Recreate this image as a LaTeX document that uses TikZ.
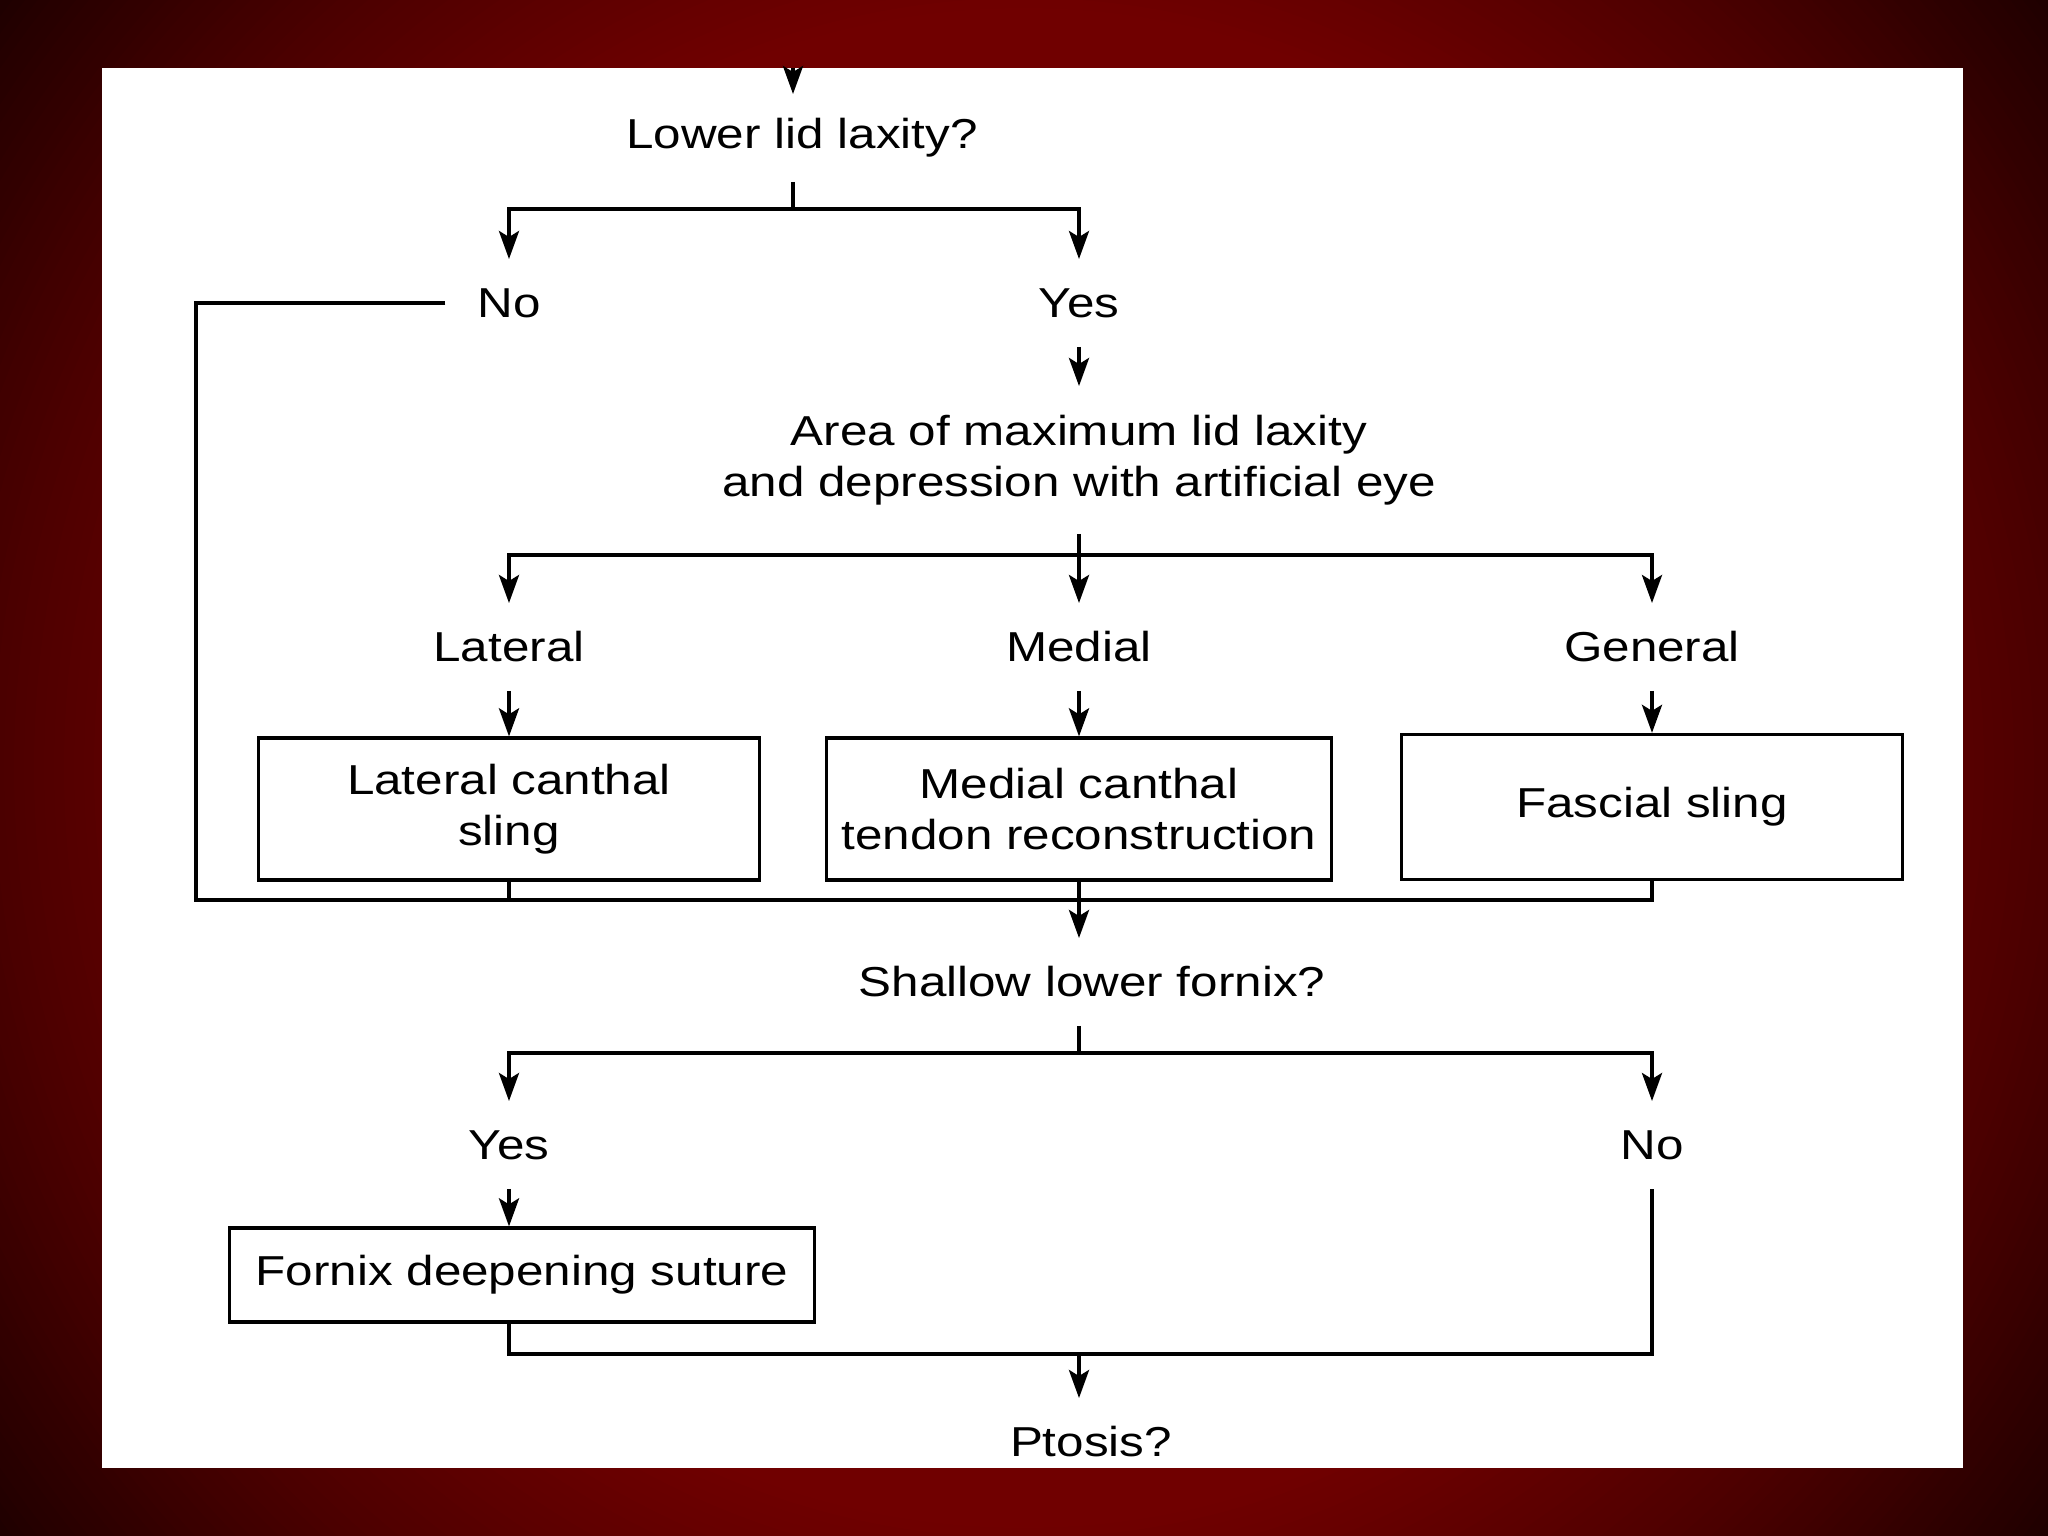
\documentclass[tikz,border=0pt]{standalone}
\usepackage{fontspec}
\setmainfont{Liberation Sans}[FakeStretch=1.18]
\usetikzlibrary{arrows.meta}
\definecolor{bgred}{HTML}{700000}
\definecolor{bgmid}{HTML}{4C0000}
\definecolor{bgdark}{HTML}{1C0000}
\tikzset{
  lbl/.style={inner ysep=0pt,inner xsep=0.3cm,minimum height=0.84cm,align=center},
  stepbox/.style={draw,line width=0.9pt,inner sep=0pt,align=center}
}
\begin{document}
\begin{tikzpicture}[x=0.01cm,y=-0.01cm,>={Stealth[length=2.8mm,width=2mm,inset=0.6mm]},line width=1.1pt,
  font=\fontsize{11.9}{14.5}\selectfont]
  \useasboundingbox (0,0) rectangle (2048,1536);
  % slide background, dark towards the corners
  \begin{scope}
    \clip (0,0) rectangle (2048,1536);
    \fill[bgdark] (0,0) rectangle (2048,1536);
    \foreach \i in {0,...,54}{
      \pgfmathsetmacro\rad{1300-10*\i}
      \pgfmathsetmacro\mixp{\rad>1024 ? (1300-\rad)/2.76 : (1024-\rad)/2.64}
      \ifdim\rad pt>1024pt \colorlet{ring}{bgmid!\mixp!bgdark}\else\colorlet{ring}{bgred!\mixp!bgmid}\fi
      \fill[ring] (1024,768) circle ({\rad*0.01cm});
    }
  \end{scope}
  \fill[white] (102,68) rectangle (1963,1468);

  % labels and boxes
  \coordinate (top) at (793,68);
  \node[lbl] (q1) at (802,138) {Lower lid laxity?};
  \coordinate (j1) at (793,209);
  \node[lbl] (no1) at (509,303) {No};
  \node[lbl] (yes1) at (1079,303) {Yes};
  \node[lbl,inner ysep=0.27cm] (area) at (1079,460) {Area of maximum lid laxity\\and depression with artificial eye};
  \coordinate (j2) at (1079,555);
  \node[lbl] (lat) at (509,647) {Lateral};
  \node[lbl] (med) at (1079,647) {Medial};
  \node[lbl] (gen) at (1652,647) {General};
  \node[stepbox,minimum width=5.01cm,minimum height=1.42cm] (latbox) at (509,809) {Lateral canthal\\sling};
  \node[stepbox,minimum width=5.05cm,minimum height=1.42cm] (medbox) at (1079,809) {Medial canthal\\tendon reconstruction};
  \node[stepbox,minimum width=5.01cm,minimum height=1.45cm] (genbox) at (1652,807) {Fascial sling};
  \coordinate (j3) at (196,900);
  \node[lbl] (shallow) at (1092,982) {Shallow lower fornix?};
  \coordinate (j4) at (1079,1053);
  \node[lbl] (yes2) at (509,1145) {Yes};
  \node[lbl] (no2) at (1652,1145) {No};
  \node[stepbox,minimum width=5.85cm,minimum height=0.94cm] (fornix) at (522,1275) {Fornix deepening suture};
  \coordinate (j5) at (1079,1354);
  \node[lbl] (ptosis) at (1091,1442) {Ptosis?};

  % lid laxity
  \draw[->] (top) -- (top |- q1.north);
  \draw (top |- q1.south) -- (j1);
  \draw[->] (j1) -| (no1);
  \draw[->] (j1) -| (yes1);
  \draw[->] (yes1) -- (area);
  \draw (area) -- (j2);
  \draw[->] (j2) -| (lat);
  \draw[->] (j2) -- (med);
  \draw[->] (j2) -| (gen);
  \draw[->] (lat) -- (latbox);
  \draw[->] (med) -- (medbox);
  \draw[->] (gen) -- (genbox);

  % back together
  \draw (no1) -| (j3) -- (j3 -| genbox) -- (genbox);
  \draw (latbox) -- (latbox |- j3);
  \draw[->] (medbox) -- (medbox |- shallow.north);

  % fornix
  \draw (medbox |- shallow.south) -- (j4);
  \draw[->] (j4) -| (yes2);
  \draw[->] (j4) -| (no2);
  \draw[->] (yes2) -- (yes2 |- fornix.north);
  \draw (fornix.south -| yes2) -- (yes2 |- j5) -- (j5 -| no2) -- (no2);
  \draw[->] (j5) -- (j5 |- ptosis.north);
\end{tikzpicture}
\end{document}
